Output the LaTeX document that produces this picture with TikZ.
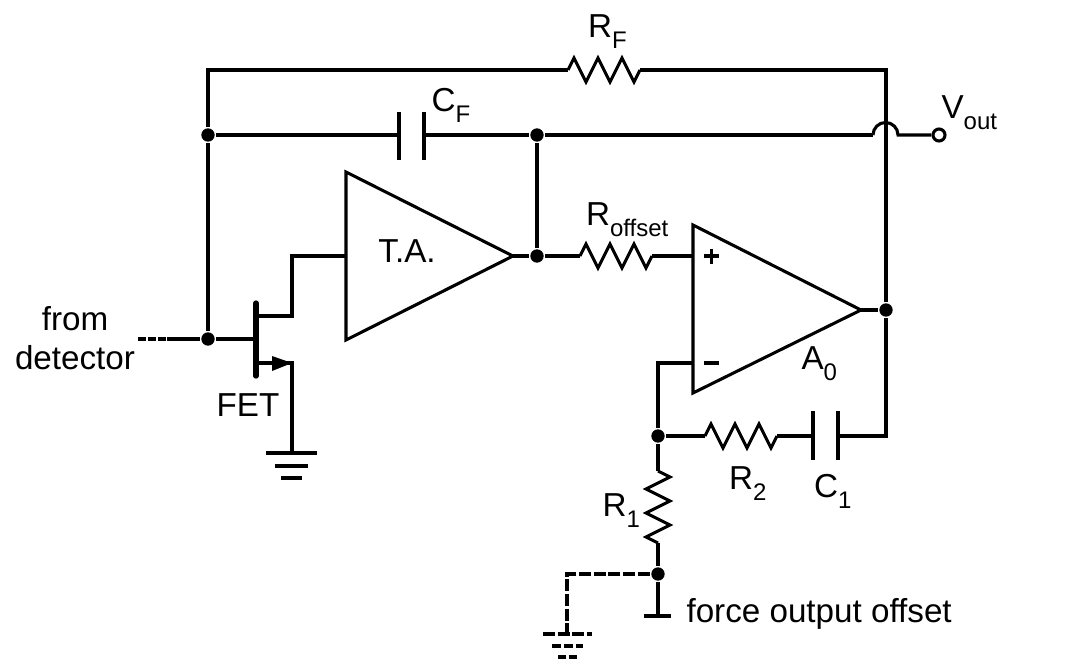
\documentclass[tikz,border=0pt]{standalone}
\usepackage{fontspec}
\setmainfont{Liberation Sans}
\usetikzlibrary{arrows.meta}
\usetikzlibrary{decorations.pathmorphing}
\newcommand{\subtxt}[1]{\raisebox{-8.5pt}{\fontsize{18}{18}\selectfont #1}}
\tikzset{
	wire/.style={line width=2.3pt},
	dot/.style={draw=none,fill,circle,inner sep=0pt,minimum size=10pt},
	pin/.style={draw,circle,fill=white,line width=2.3pt,inner sep=0pt,minimum size=9pt},
	lbl/.style={inner sep=0pt,font=\fontsize{24.9}{29}\selectfont,align=center},
	sublbl/.style={lbl,anchor=base west},
	res/.style={decorate,decoration={zigzag,segment length=18pt,amplitude=9pt}},
	dsh/.style={dash pattern=on 9pt off 2pt},
}
\begin{document}
\begin{tikzpicture}[wire,x=0.75pt,y=-0.75pt]
	\useasboundingbox (0,0) rectangle (1080,664);
	% junctions
	\node[dot] (J1) at (208,135) {};
	\node[dot] (J2) at (208,339) {};
	\node[dot] (J3) at (537,135) {};
	\node[dot] (J4) at (537,256) {};
	\node[dot] (J5) at (886,310) {};
	\node[dot] (J6) at (658,436) {};
	\node[dot] (J7) at (658,574) {};
	\node[pin] (Vo) at (939,135) {};
	% feedback resistor
	\coordinate (TL) at (208,70);
	\coordinate (TR) at (886,70);
	\coordinate (RFa) at (568,70);
	\coordinate (RFb) at (640,70);
	\draw (J2) -- (J1) -- (TL) -- (RFa);
	\draw[res] (RFa) -- (RFb);
	\draw (RFb) -- (TR) -- (J5);
	% feedback capacitor
	\coordinate (CFa) at (399,135);
	\coordinate (CFb) at (424,135);
	\coordinate (HPa) at (873,135);
	\coordinate (HPb) at (898,135);
	\draw (J1) -- (CFa);
	\draw (399,112) -- (CFa) -- (399,160);
	\draw (424,112) -- (CFb) -- (424,160);
	\draw (CFb) -- (J3) -- (HPa);
	\draw (HPa) arc[start angle=180,end angle=360,radius=12.5] -- (Vo);
	% T.A.
	\coordinate (TAa) at (346,172);
	\coordinate (TAb) at (346,340);
	\coordinate (TAo) at (513,256);
	\coordinate (TAi) at (346,256);
	\draw[line join=miter] (TAa) -- (TAb) -- (TAo) -- cycle;
	\draw (J3) -- (J4);
	\draw (TAo) -- (J4);
	% FET
	\coordinate (Gd) at (138,339);
	\coordinate (Gs) at (167,339);
	\coordinate (Gt) at (256,339);
	\coordinate (Dr) at (256,316);
	\coordinate (Sr) at (256,363);
	\coordinate (Sc) at (292,363);
	\coordinate (Gnd) at (292,453);
	\draw[dash pattern=on 6pt off 1.5pt] (Gd) -- (Gs);
	\draw (Gs) -- (J2) -- (Gt);
	\draw[line width=4pt,line cap=round] (256,303) -- (256,376);
	\draw (Dr) -- (292,316) -- (292,256) -- (TAi);
	\draw (Sr) -- (Sc) -- (Gnd);
	\fill (272,356) -- (Sc) -- (272,371) -- cycle;
	\draw (266,453) -- (317,453);
	\draw (275,466) -- (308,466);
	\draw (281,478) -- (302,478);
	% A0
	\coordinate (Aa) at (693,225);
	\coordinate (Ab) at (693,393);
	\coordinate (Ao) at (861,310);
	\coordinate (Ap) at (693,256);
	\coordinate (Am) at (693,363);
	\coordinate (ROa) at (580,256);
	\coordinate (ROb) at (652,256);
	\draw[line join=miter] (Aa) -- (Ab) -- (Ao) -- cycle;
	\draw (Ao) -- (J5);
	\draw (J4) -- (ROa);
	\draw[res] (ROa) -- (ROb);
	\draw (ROb) -- (Ap);
	\draw (704,256) -- (719,256);
	\draw (711.5,248.5) -- (711.5,263.5);
	\draw (704,363) -- (719,363);
	% A0 feedback
	\coordinate (R2a) at (705,436);
	\coordinate (R2b) at (777,436);
	\coordinate (C1a) at (813,436);
	\coordinate (C1b) at (838,436);
	\coordinate (BR) at (886,436);
	\coordinate (R1a) at (658,471);
	\coordinate (R1b) at (658,543);
	\coordinate (Fo) at (658,616);
	\draw (Am) -- (658,363) -- (J6) -- (R1a);
	\draw (J6) -- (R2a);
	\draw[res] (R2a) -- (R2b);
	\draw (R2b) -- (C1a);
	\draw (813,411) -- (C1a) -- (813,460);
	\draw (838,411) -- (C1b) -- (838,460);
	\draw (C1b) -- (BR) -- (J5);
	\draw[res] (R1a) -- (R1b);
	\draw (R1b) -- (J7) -- (Fo);
	\draw (644,616) -- (671,616);
	% dashed ground
	\coordinate (Dg) at (567,634);
	\draw[dsh] (J7) -- (567,574) -- (Dg);
	\draw[dsh] (543,634) -- (592,634);
	\draw[dash pattern=on 7pt off 2pt] (552,646) -- (583,646);
	\draw[dash pattern=on 6pt off 2pt] (558,657) -- (577,657);
	% labels
	\node[sublbl] (LRF) at (586.5,37) {R\subtxt{F}};
	\node[sublbl] (LCF) at (430,111) {C\subtxt{F}};
	\node[sublbl] (LVo) at (940,118) {V\subtxt{out}};
	\node[lbl] (LDet) at (75,338) {from\\detector};
	\node[lbl] (LFet) at (248,405) {FET};
	\node[lbl] (LTA) at (407,251) {T.A.};
	\node[sublbl] (LRo) at (584.5,225) {R\subtxt{offset}};
	\node[sublbl] (LA) at (800,369) {A\subtxt{0}};
	\node[sublbl] (LR2) at (727.5,489) {R\subtxt{2}};
	\node[sublbl] (LC1) at (812.5,497) {C\subtxt{1}};
	\node[sublbl] (LR1) at (601,516) {R\subtxt{1}};
	\node[lbl,anchor=west] (LFo) at (685,614) {force output offset};
\end{tikzpicture}
\end{document}
